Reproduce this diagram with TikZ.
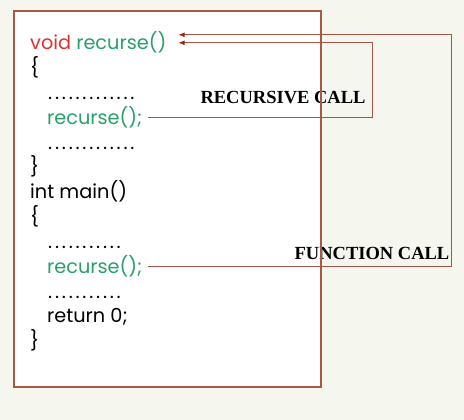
\documentclass[tikz,border=0pt]{standalone}
\usepackage{fontspec}
\setmainfont{Poppins}
\newfontfamily\callfont{Liberation Serif}
\usetikzlibrary{arrows.meta, positioning}
\definecolor{codered}{RGB}{222,50,48}
\definecolor{codegreen}{RGB}{42,160,106}
\definecolor{boxbrown}{RGB}{168,88,68}
\definecolor{linkbrown}{RGB}{165,85,70}
\definecolor{tipred}{RGB}{160,35,25}
\definecolor{paper}{RGB}{245,246,237}
\newcommand{\spreaddots}[1]{{\addfontfeature{LetterSpace=14.5}#1}}
\begin{document}
\begin{tikzpicture}[x=1pt, y=-1pt]

    % -----------------------------------------------------------------
    % STILI
    % -----------------------------------------------------------------
    \tikzset{
        codeline/.style={anchor=base west, inner sep=0pt, font=\fontsize{19.3}{19.3}\selectfont, text=black},
        calllabel/.style={inner sep=0pt, font=\callfont\bfseries\fontsize{18.5}{18.5}\selectfont},
        link/.style={draw=linkbrown, line width=0.9pt, -{Latex[length=6pt, width=5pt, color=tipred]}}
    }

    % Sfondo e riquadro del codice
    \fill[paper] (0,0) rectangle (464,420);
    \fill[white] (14,11) rectangle (321,387);

    % =================================================================
    % CODICE
    % =================================================================
    \node (head)  [codeline] at (30, 50)    {\textcolor{codered}{void} \textcolor{codegreen}{recurse()}};
    \node (open1) [codeline] at (30, 74.8)  {\{};
    \node (dots1) [codeline] at (48, 99.6)  {\spreaddots{.............}};
    \node (rec1)  [codeline, text=codegreen] at (47, 124.4) {recurse();};
    \node (dots2) [codeline] at (48, 149.2) {\spreaddots{.............}};
    \node (close1)[codeline] at (30, 174)   {\}};
    \node (main)  [codeline] at (30, 198.8) {int main()};
    \node (open2) [codeline] at (30, 223.6) {\{};
    \node (dots3) [codeline] at (48, 248.4) {\spreaddots{...........}};
    \node (rec2)  [codeline, text=codegreen] at (47, 273.2) {recurse();};
    \node (dots4) [codeline] at (48, 298)   {\spreaddots{...........}};
    \node (ret)   [codeline] at (47, 322.8) {return 0;};
    \node (close2)[codeline] at (30, 347.6) {\}};

    % Etichette delle chiamate
    \node (lbl_rec)  [calllabel] at (283, 98)  {RECURSIVE CALL};
    \node (lbl_func) [calllabel] at (372, 253) {FUNCTION CALL};

    % =================================================================
    % CONNESSIONI
    % =================================================================
    \coordinate (tip_rec)  at ([xshift=12pt]head.east);
    \coordinate (tip_func) at ([xshift=12pt, yshift=8pt]head.east);
    \coordinate (x_rec)  at (372, 0);
    \coordinate (x_func) at (451, 0);

    % Chiamata ricorsiva
    \draw[link] ([xshift=6pt]rec1.east) -| (tip_rec -| x_rec) -- (tip_rec);

    % Chiamata da main
    \draw[link] ([xshift=6pt]rec2.east) -| (tip_func -| x_func) -- (tip_func);

    % Bordo del riquadro
    \draw[boxbrown, line width=1.6pt] (14,11) rectangle (321,387);

\end{tikzpicture}
\end{document}
